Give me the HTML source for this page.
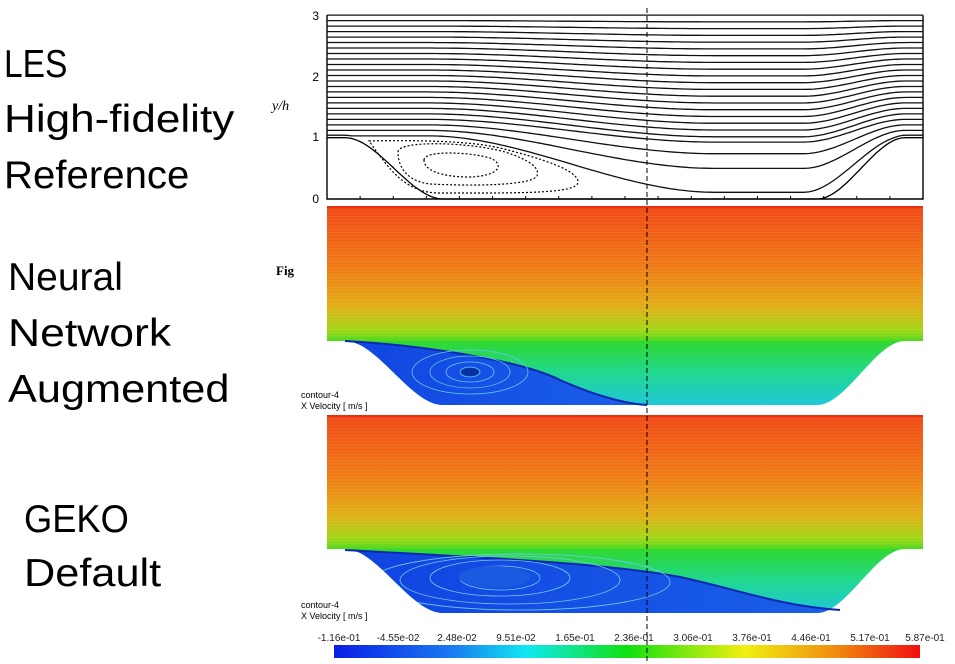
<!DOCTYPE html>
<html><head><meta charset="utf-8"><style>
body{margin:0;background:#fff;width:955px;height:664px;overflow:hidden;position:relative;font-family:"Liberation Sans",sans-serif}
.l{position:absolute;font-size:39px;color:#000;line-height:1;transform-origin:0 0;white-space:nowrap}
</style></head><body>
<div class="l" style="left:4px;top:45px;transform:scaleX(0.86)">LES</div>
<div class="l" style="left:4px;top:100px;transform:scaleX(1.13)">High-fidelity</div>
<div class="l" style="left:4px;top:156px;transform:scaleX(1.03)">Reference</div>
<div class="l" style="left:8px;top:258px">Neural</div>
<div class="l" style="left:8px;top:314px;transform:scaleX(1.14)">Network</div>
<div class="l" style="left:8px;top:370px;transform:scaleX(1.11)">Augmented</div>
<div class="l" style="left:24px;top:500px;transform:scaleX(0.93)">GEKO</div>
<div class="l" style="left:24px;top:554px;transform:scaleX(1.11)">Default</div>
<svg id="s" width="955" height="664" style="position:absolute;left:0;top:0" xmlns="http://www.w3.org/2000/svg">
<defs>
<linearGradient id="cb" x1="0" x2="1" y1="0" y2="0">
<stop offset="0" stop-color="#0a1ee6"/><stop offset="0.2" stop-color="#1a7af0"/><stop offset="0.33" stop-color="#10e8f0"/><stop offset="0.5" stop-color="#10e010"/><stop offset="0.7" stop-color="#f0f010"/><stop offset="0.85" stop-color="#f09010"/><stop offset="1" stop-color="#f01010"/></linearGradient>
<linearGradient id="up1" x1="0" x2="0" y1="0" y2="1">
<stop offset="0" stop-color="#f04818"/><stop offset="0.45" stop-color="#f07a18"/><stop offset="0.75" stop-color="#e0b018"/><stop offset="0.92" stop-color="#a0d818"/><stop offset="1" stop-color="#50d820"/></linearGradient>
<linearGradient id="lowg" x1="0" x2="0" y1="0" y2="1">
<stop offset="0" stop-color="#30d830"/><stop offset="0.5" stop-color="#20d890"/><stop offset="1" stop-color="#20c8d8"/></linearGradient>
<linearGradient id="blu" x1="0" x2="1" y1="0" y2="0">
<stop offset="0" stop-color="#1040e0"/><stop offset="1" stop-color="#1a60e8"/></linearGradient>
</defs>
<g id="g"></g>
<text x="276" y="275" font-family="Liberation Serif" font-weight="bold" font-size="13">Fig</text>
<text x="272" y="110" font-family="Liberation Serif" font-style="italic" font-size="14">y/h</text>
<g font-size="12" text-anchor="end"><text x="319" y="20">3</text><text x="319" y="81">2</text><text x="319" y="141">1</text><text x="319" y="203">0</text></g>
<g font-size="9"><text x="301" y="398">contour-4</text><text x="301" y="409">X Velocity [ m/s ]</text>
<text x="301" y="608">contour-4</text><text x="301" y="619">X Velocity [ m/s ]</text></g>
<rect x="334" y="645" width="586" height="13" fill="url(#cb)"/>
<g font-size="10" text-anchor="middle" fill="#222">
<text x="339" y="641">-1.16e-01</text><text x="398" y="641">-4.55e-02</text><text x="457" y="641">2.48e-02</text><text x="516" y="641">9.51e-02</text><text x="575" y="641">1.65e-01</text><text x="634" y="641">2.36e-01</text><text x="693" y="641">3.06e-01</text><text x="752" y="641">3.76e-01</text><text x="811" y="641">4.46e-01</text><text x="870" y="641">5.17e-01</text><text x="925" y="641">5.87e-01</text></g>
<line x1="647" y1="8" x2="647" y2="664" stroke="#000" stroke-dasharray="5,3" stroke-width="1"/>
</svg>
<script>
const g=document.getElementById('g');let h='';
const X0=327,W=596,X1=923,Y0=199,U=61.3;
function ss(t){t=Math.max(0,Math.min(1,t));return t*t*(3-2*t);}
function hill(f){
 const a=(345-X0)/W,b=(443-X0)/W,c=(817-X0)/W,d=(905-X0)/W;
 if(f<b) return 1-ss((f-a)/(b-a)); if(f>c) return ss((f-c)/(d-c)); return 0;}
function bump(f){return ss((f-0.17)/0.48)*(1-ss((f-0.8)/0.17));}
h+=`<path d="M${X0} ${Y0-3*U} V${Y0} H${X1} V${Y0-3*U}" fill="none" stroke="#000" stroke-width="1.4"/>`;
let p='M'+X0+' '+(Y0-U);for(let i=0;i<=200;i++){const f=i/200;p+=` L${(X0+f*W).toFixed(1)} ${(Y0-hill(f)*U).toFixed(1)}`;}
h+=`<path d="${p}" fill="none" stroke="#000" stroke-width="1.3"/>`;
const dips=[0.92,0.62,0.47,0.37];
for(let k=0;k<23;k++){const y0=1.03+k*(1.97/22);const a=k<4?dips[k]:0.37*(3-y0)/1.6;
 let q='';for(let i=0;i<=120;i++){const f=i/120;let y=y0-a*bump(f);if(k==0)y=Math.max(y,hill(f)+0.04);if(k==1)y=Math.max(y,hill(f)+0.08);q+=(i?' L':'M')+(X0+f*W).toFixed(1)+' '+(Y0-y*U).toFixed(1);}
 h+=`<path d="${q}" fill="none" stroke="#111" stroke-width="1.3"/>`;}
const ds='fill="none" stroke="#000" stroke-dasharray="2,2" stroke-width="1.2"';
h+=`<path d="M369 141 C420 140 470 141 500 148 C540 158 578 170 578 182 C578 194 520 193 440 193 C405 193 390 170 369 141 Z" ${ds}/>`;
h+=`<path d="M398 152 C398 140 470 142 505 152 C530 160 540 168 537 176 C530 186 470 186 430 184 C405 181 398 165 398 152 Z" ${ds}/>`;
h+=`<path d="M424 160 C424 150 470 152 490 158 C505 164 500 176 470 177 C440 177 424 170 424 160 Z" ${ds}/>`;
for(let i=1;i<18;i++)h+=`<line x1="${X0+i*W/18}" y1="${Y0}" x2="${X0+i*W/18}" y2="${Y0-3}" stroke="#000"/>`;
function panel(top,hy,bot,sep,sepFill){
 const H=hy-top;
 h+=`<rect x="${X0}" y="${top}" width="${W}" height="${H}" fill="url(#up1)"/>`;
 let q=`M${X0} ${hy}`;for(let i=0;i<=200;i++){const f=i/200;q+=` L${(X0+f*W).toFixed(1)} ${(bot-hill(f)*(bot-hy)).toFixed(1)}`;}
 q+=` L${X1} ${hy} Z`;
 h+=`<clipPath id="c${top}"><path d="${q}"/></clipPath>`;
 h+=`<g clip-path="url(#c${top})"><rect x="${X0}" y="${hy}" width="${W}" height="${bot-hy}" fill="url(#lowg)"/><path d="${sepFill}" fill="url(#blu)"/></g>`;
 for(let j=0;j<40;j++){const yy=top+4+j*(H-6)/40;h+=`<line x1="${X0}" y1="${yy}" x2="${X1}" y2="${yy}" stroke="rgba(255,220,120,0.18)" stroke-width="0.6"/>`;}
 h+=`<path d="${sep}" fill="none" stroke="#0a28b0" stroke-width="2"/>`;
 h+=`<rect x="${X0}" y="${top}" width="${W}" height="2" fill="#e83010"/>`;
}
const s2='M345 341 C420 345 520 360 560 380 C600 398 630 404 647 405';
panel(206,341,405,s2,s2+' L300 410 L300 341 Z');
[[470,372,10,5],[470,372,24,10],[470,372,40,16],[470,372,58,22]].forEach(e=>h+=`<ellipse cx="${e[0]}" cy="${e[1]}" rx="${e[2]}" ry="${e[3]}" fill="none" stroke="#60c8f0" stroke-width="0.8"/>`);
h+=`<ellipse cx="470" cy="372" rx="9" ry="4" fill="#0a30a0"/>`;
const s3='M345 550 C450 556 600 562 680 577 C740 590 780 606 840 610';
panel(415,549,613,s3,s3+' L850 620 L300 620 L300 550 Z');
[[500,578,40,12],[500,578,70,18],[510,580,110,24],[520,582,150,28]].forEach(e=>h+=`<ellipse cx="${e[0]}" cy="${e[1]}" rx="${e[2]}" ry="${e[3]}" fill="none" stroke="#70c8f0" stroke-width="0.8" clip-path="url(#c415)"/>`);
h+=`<ellipse cx="495" cy="577" rx="36" ry="11" fill="#1a5ae0"/>`;
g.innerHTML=h;
</script>
</body></html>
